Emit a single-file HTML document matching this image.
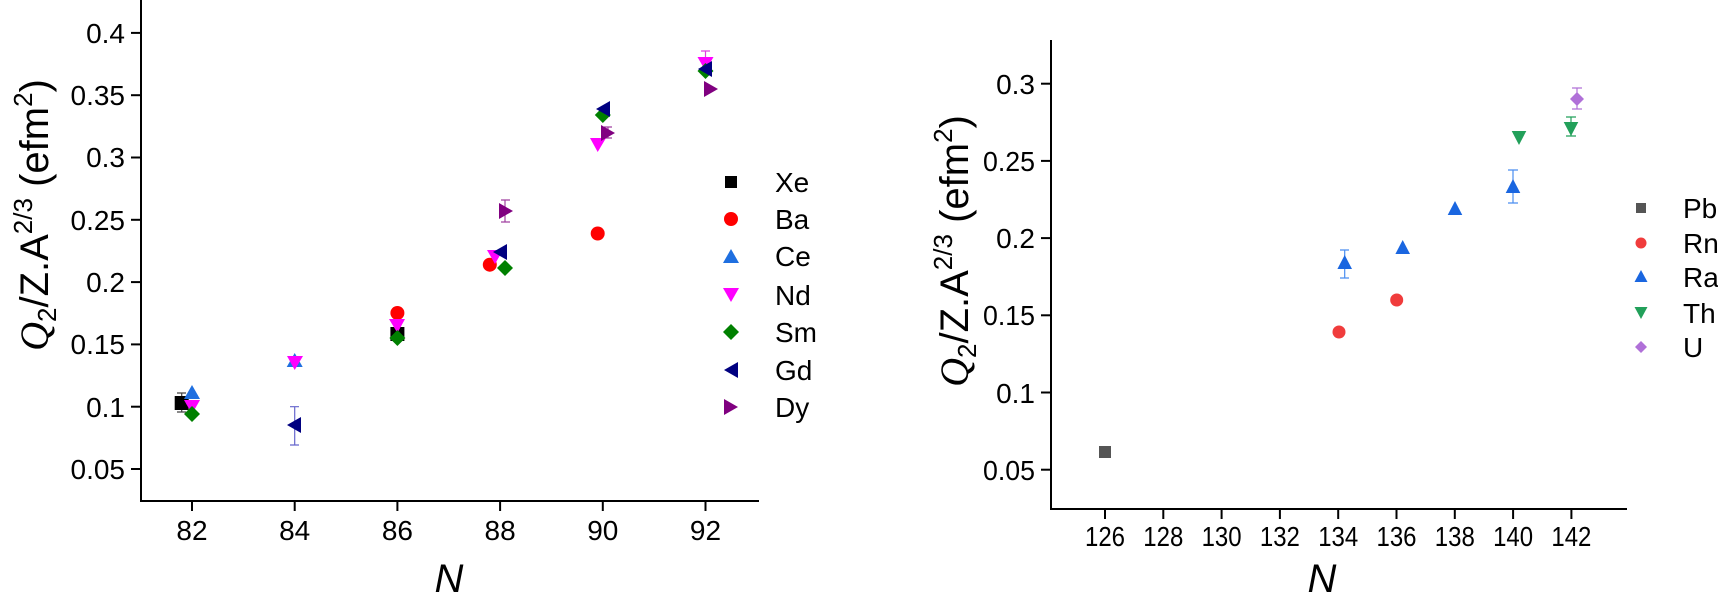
<!DOCTYPE html>
<html><head><meta charset="utf-8"><style>
html,body{margin:0;padding:0;background:#fff;}
svg{display:block;font-family:"Liberation Sans",Arial,sans-serif;}
</style></head><body>
<svg width="1718" height="592" viewBox="0 0 1718 592" xmlns="http://www.w3.org/2000/svg">
<!-- LEFT PANEL -->
<g stroke="#000" stroke-width="2" fill="none">
<line x1="141" y1="0" x2="141" y2="501"/>
<line x1="140" y1="501" x2="759" y2="501"/>
<line x1="192" y1="501" x2="192" y2="511"/><line x1="294.7" y1="501" x2="294.7" y2="511"/>
<line x1="397.4" y1="501" x2="397.4" y2="511"/><line x1="500.1" y1="501" x2="500.1" y2="511"/>
<line x1="602.8" y1="501" x2="602.8" y2="511"/><line x1="705.5" y1="501" x2="705.5" y2="511"/>
<line x1="131" y1="469" x2="141" y2="469"/><line x1="131" y1="406.7" x2="141" y2="406.7"/>
<line x1="131" y1="344.4" x2="141" y2="344.4"/><line x1="131" y1="282.1" x2="141" y2="282.1"/>
<line x1="131" y1="219.8" x2="141" y2="219.8"/><line x1="131" y1="157.5" x2="141" y2="157.5"/>
<line x1="131" y1="95.2" x2="141" y2="95.2"/><line x1="131" y1="32.9" x2="141" y2="32.9"/>
</g>
<g font-size="28" text-anchor="end" fill="#000">
<text x="125" y="479">0.05</text><text x="125" y="417">0.1</text><text x="125" y="354">0.15</text>
<text x="125" y="292">0.2</text><text x="125" y="230">0.25</text><text x="125" y="167">0.3</text>
<text x="125" y="105">0.35</text><text x="125" y="43">0.4</text>
</g>
<g font-size="28" text-anchor="middle" fill="#000">
<text x="192" y="540">82</text><text x="294.7" y="540">84</text><text x="397.4" y="540">86</text>
<text x="500.1" y="540">88</text><text x="602.8" y="540">90</text><text x="705.5" y="540">92</text>
</g>
<text x="449" y="592" font-size="40" font-style="italic" text-anchor="middle">N</text>
<text transform="translate(48,215) rotate(-90)" font-size="40" text-anchor="middle"><tspan font-family="Liberation Serif" font-style="italic">Q</tspan><tspan font-size="26" dy="8">2</tspan><tspan dy="-8">/Z.A</tspan><tspan font-size="26" dy="-16">2/3</tspan><tspan dy="16"> (efm</tspan><tspan font-size="26" dy="-16">2</tspan><tspan dy="16">)</tspan></text>

<!-- left error bars -->
<g stroke-width="1.2" fill="none">
<path d="M181.7 393V412M177 393h9M177 412h9" stroke="#444"/>
<path d="M294.7 406.7V445M290 406.7h9M290 445h9" stroke="#6666cc"/>
<path d="M505 200V222M501 200h9M501 222h9" stroke="#a040a0"/>
<path d="M705.5 51V64M701 51h9" stroke="#e040e0"/>
<path d="M608 127V138M604 127h8M604 138h8" stroke="#a040a0"/>
</g>
<!-- Xe -->
<rect x="174.7" y="396" width="14" height="14" fill="#000"/>
<rect x="390.4" y="327" width="14" height="14" fill="#000"/>
<!-- Ba -->
<circle cx="397.4" cy="313" r="7" fill="#f00"/>
<circle cx="489.8" cy="264.7" r="7" fill="#f00"/>
<circle cx="597.7" cy="233.5" r="7" fill="#f00"/>
<!-- Ce -->
<polygon points="192,385 200,399 184,399" fill="#1f6fe0"/>
<polygon points="294.7,353 302.7,367 286.7,367" fill="#1f6fe0"/>
<!-- Nd -->
<polygon points="184,400 200,400 192,414" fill="#ff00ff"/>
<polygon points="287,356 303,356 294.7,370" fill="#ff00ff"/>
<polygon points="389,319 405,319 397.4,333" fill="#ff00ff"/>
<polygon points="487,250 503,250 495,264" fill="#ff00ff"/>
<polygon points="590,138 606,138 597.7,152" fill="#ff00ff"/>
<polygon points="697.5,57 713.5,57 705.5,71" fill="#ff00ff"/>
<!-- Sm -->
<polygon points="192,406 200,414 192,422 184,414" fill="#008000"/>
<polygon points="397.4,330 405.4,338 397.4,346 389.4,338" fill="#008000"/>
<polygon points="505,260 513,268 505,276 497,268" fill="#008000"/>
<polygon points="602.8,107 610.8,115 602.8,123 594.8,115" fill="#008000"/>
<polygon points="705.5,63 713.5,71 705.5,79 697.5,71" fill="#008000"/>
<!-- Gd -->
<polygon points="287,425 301,417 301,433" fill="#000080"/>
<polygon points="493,252 507,244 507,260" fill="#000080"/>
<polygon points="596,109 610,101 610,117" fill="#000080"/>
<polygon points="698,69 712,61 712,77" fill="#000080"/>
<!-- Dy -->
<polygon points="499,203 513,211 499,219" fill="#800080"/>
<polygon points="601,125 615,133 601,141" fill="#800080"/>
<polygon points="704,81 718,89 704,97" fill="#800080"/>
<!-- left legend -->
<rect x="725" y="176" width="12" height="12" fill="#000"/>
<circle cx="731" cy="219" r="7" fill="#f00"/>
<polygon points="731,249 739,263 723,263" fill="#1f6fe0"/>
<polygon points="723,288 739,288 731,302" fill="#ff00ff"/>
<polygon points="731,324 739,332 731,340 723,332" fill="#008000"/>
<polygon points="724,370 738,362 738,378" fill="#000080"/>
<polygon points="724,399 738,407 724,415" fill="#800080"/>
<g font-size="28" fill="#000">
<text x="775" y="192">Xe</text><text x="775" y="229">Ba</text><text x="775" y="266">Ce</text>
<text x="775" y="305">Nd</text><text x="775" y="342">Sm</text><text x="775" y="380">Gd</text><text x="775" y="417">Dy</text>
</g>

<!-- RIGHT PANEL -->
<g stroke="#000" stroke-width="2" fill="none">
<line x1="1051" y1="40" x2="1051" y2="509"/>
<line x1="1050" y1="509" x2="1627" y2="509"/>
<line x1="1041" y1="469.7" x2="1051" y2="469.7"/><line x1="1041" y1="392.5" x2="1051" y2="392.5"/>
<line x1="1041" y1="315.3" x2="1051" y2="315.3"/><line x1="1041" y1="238.1" x2="1051" y2="238.1"/>
<line x1="1041" y1="160.9" x2="1051" y2="160.9"/><line x1="1041" y1="83.7" x2="1051" y2="83.7"/>
<line x1="1105" y1="509" x2="1105" y2="519"/><line x1="1163.3" y1="509" x2="1163.3" y2="519"/>
<line x1="1221.6" y1="509" x2="1221.6" y2="519"/><line x1="1279.9" y1="509" x2="1279.9" y2="519"/>
<line x1="1338.2" y1="509" x2="1338.2" y2="519"/><line x1="1396.5" y1="509" x2="1396.5" y2="519"/>
<line x1="1454.8" y1="509" x2="1454.8" y2="519"/><line x1="1513.1" y1="509" x2="1513.1" y2="519"/>
<line x1="1571.4" y1="509" x2="1571.4" y2="519"/>
</g>
<g font-size="28" text-anchor="end" fill="#000">
<text x="1035" y="480" textLength="52" lengthAdjust="spacingAndGlyphs">0.05</text>
<text x="1035" y="403">0.1</text>
<text x="1035" y="325" textLength="52" lengthAdjust="spacingAndGlyphs">0.15</text>
<text x="1035" y="248">0.2</text>
<text x="1035" y="171" textLength="52" lengthAdjust="spacingAndGlyphs">0.25</text>
<text x="1035" y="94">0.3</text>
</g>
<g font-size="28" text-anchor="middle" fill="#000">
<text x="1105" y="546" textLength="40" lengthAdjust="spacingAndGlyphs">126</text>
<text x="1163.3" y="546" textLength="40" lengthAdjust="spacingAndGlyphs">128</text>
<text x="1221.6" y="546" textLength="40" lengthAdjust="spacingAndGlyphs">130</text>
<text x="1279.9" y="546" textLength="40" lengthAdjust="spacingAndGlyphs">132</text>
<text x="1338.2" y="546" textLength="40" lengthAdjust="spacingAndGlyphs">134</text>
<text x="1396.5" y="546" textLength="40" lengthAdjust="spacingAndGlyphs">136</text>
<text x="1454.8" y="546" textLength="40" lengthAdjust="spacingAndGlyphs">138</text>
<text x="1513.1" y="546" textLength="40" lengthAdjust="spacingAndGlyphs">140</text>
<text x="1571.4" y="546" textLength="40" lengthAdjust="spacingAndGlyphs">142</text>
</g>
<text x="1322" y="592" font-size="40" font-style="italic" text-anchor="middle">N</text>
<text transform="translate(968,251) rotate(-90)" font-size="40" text-anchor="middle"><tspan font-family="Liberation Serif" font-style="italic">Q</tspan><tspan font-size="26" dy="8">2</tspan><tspan dy="-8">/Z.A</tspan><tspan font-size="26" dy="-16">2/3</tspan><tspan dy="16"> (efm</tspan><tspan font-size="26" dy="-16">2</tspan><tspan dy="16">)</tspan></text>
<!-- right error bars -->
<g stroke-width="1.2" fill="none">
<path d="M1344.7 250V278M1340 250h9M1340 278h9" stroke="#4a8ef0"/>
<path d="M1513 170V203M1508 170h10M1508 203h10" stroke="#4a8ef0"/>
<path d="M1571 117V136M1566 117h10M1566 136h10" stroke="#22a05a"/>
<path d="M1577 88V109M1572 88h10M1572 109h10" stroke="#b070d8"/>
</g>
<rect x="1099" y="446" width="12" height="12" fill="#555"/>
<circle cx="1339" cy="332" r="6.5" fill="#f03c3c"/>
<circle cx="1396.7" cy="300" r="6.5" fill="#f03c3c"/>
<polygon points="1344.7,255 1352,269 1337.4,269" fill="#1a66e0"/>
<polygon points="1402.7,240 1410,254 1395.4,254" fill="#1a66e0"/>
<polygon points="1455,201 1462.3,215 1447.7,215" fill="#1a66e0"/>
<polygon points="1513,179 1520.3,193 1505.7,193" fill="#1a66e0"/>
<polygon points="1511.7,131 1526.3,131 1519,145" fill="#22a05a"/>
<polygon points="1563.7,122 1578.3,122 1571,136" fill="#22a05a"/>
<polygon points="1577,92 1584,99 1577,106 1570,99" fill="#b070d8"/>
<!-- right legend -->
<rect x="1636" y="203" width="10" height="10" fill="#555"/>
<circle cx="1641" cy="243" r="5.5" fill="#f03c3c"/>
<polygon points="1641,270 1647.5,282 1634.5,282" fill="#1a66e0"/>
<polygon points="1634.5,307 1647.5,307 1641,319" fill="#22a05a"/>
<polygon points="1641,341 1647,347 1641,353 1635,347" fill="#b070d8"/>
<g font-size="28" fill="#000">
<text x="1683" y="218">Pb</text><text x="1683" y="253">Rn</text><text x="1683" y="287">Ra</text>
<text x="1683" y="323">Th</text><text x="1683" y="357">U</text>
</g>
</svg>
</body></html>
